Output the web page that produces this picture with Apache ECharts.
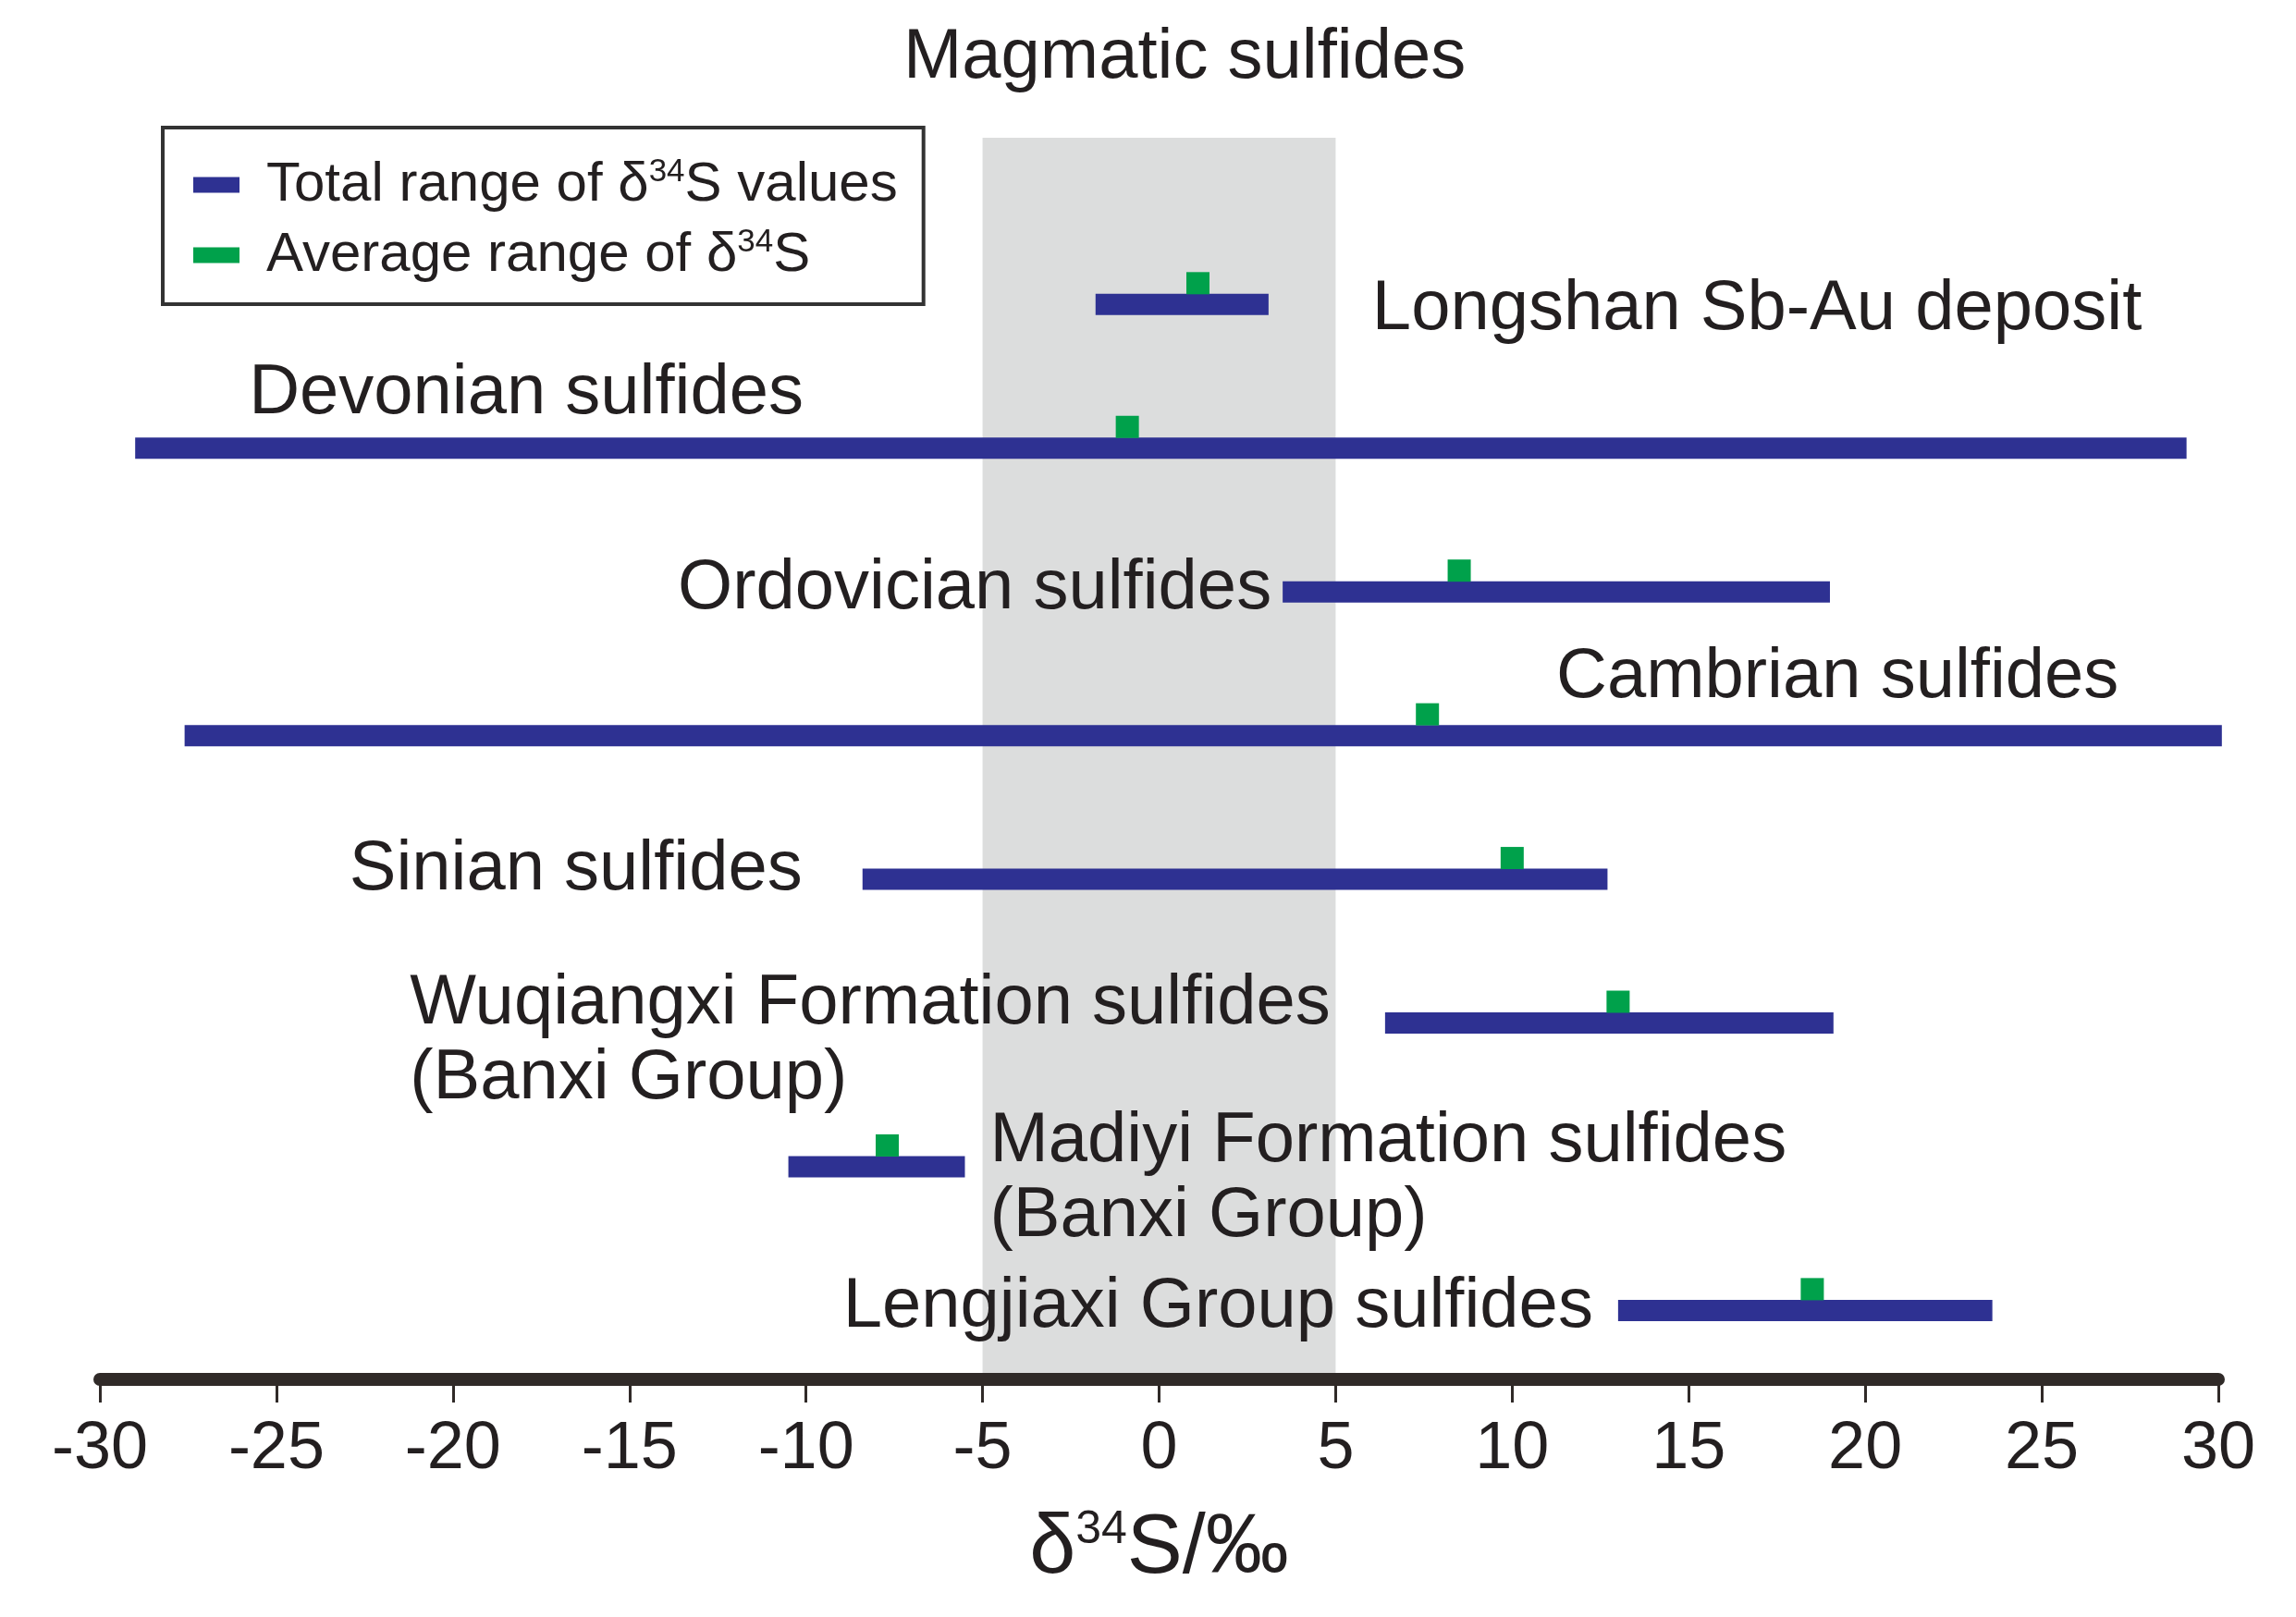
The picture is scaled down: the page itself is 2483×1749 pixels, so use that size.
<!DOCTYPE html>
<html>
<head>
<meta charset="utf-8">
<script src="https://cdn.jsdelivr.net/npm/echarts@6/dist/echarts.min.js"></script>
<style>html,body{margin:0;padding:0;background:#fff}#chart{width:2483px;height:1749px}</style>
</head>
<body>
<div id="chart"></div>
<script>
// ---- data ----
const categories = [
  'Longshan Sb-Au deposit',
  'Devonian sulfides',
  'Ordovician sulfides',
  'Cambrian sulfides',
  'Sinian sulfides',
  'Wuqiangxi Formation sulfides\n(Banxi Group)',
  'Madiyi Formation sulfides\n(Banxi Group)',
  'Lengjiaxi Group sulfides'
];
const rangeMin = [-1.8, -29.0, 3.5, -27.6, -8.4, 6.4, -10.5, 13.0];
const rangeMax = [3.1, 29.1, 19.0, 30.1, 12.7, 19.1, -5.5, 23.6];
const averages = [1.1, -0.9, 8.5, 7.6, 10.0, 13.0, -7.7, 18.5];
const xTickMin = -30, xTickMax = 30, xTickStep = 5;
const magmaticRange = [-5, 5];
const seriesNames = ['Total range of δ34S values', 'Average range of δ34S'];

// ---- label placement (layout only) ----
const labelLayout = [
  {anchor: 'max', dx: 112, dy: 6, align: 'left'},
  {anchor: 'value', x: -25.78, dx: 0, dy: -59, align: 'left'},
  {anchor: 'min', dx: -12, dy: -3, align: 'right'},
  {anchor: 'value', x: 11.25, dx: 0, dy: -63, align: 'left'},
  {anchor: 'min', dx: -65, dy: -10, align: 'right'},
  {anchor: 'value', x: -21.22, dx: 0, dy: 20, align: 'left'},
  {anchor: 'max', dx: 27, dy: 14, align: 'left'},
  {anchor: 'min', dx: -27, dy: -3, align: 'right'}
];

const FONT = "'Liberation Sans', Arial, Helvetica, sans-serif";
const TXT = '#231f20';
const BLUE = '#2e3192';
const GREEN = '#00a14b';
const BAR_H = 23;

const chart = echarts.init(document.getElementById('chart'), null, {renderer: 'canvas'});

const supFmt = s => s.replace('δ34S', 'δ{sup|34}S');

const option = {
  backgroundColor: '#ffffff',
  animation: false,
  textStyle: {fontFamily: FONT},
  title: {
    text: 'Magmatic sulfides',
    left: 972, top: 20,
    textStyle: {fontSize: 76, fontWeight: 'normal', color: TXT, fontFamily: FONT}
  },
  legend: {
    orient: 'vertical',
    left: 176, top: 138,
    padding: [31, 28, 22, 33],
    borderColor: '#333333', borderWidth: 4, borderRadius: 0,
    backgroundColor: '#ffffff',
    itemWidth: 50, itemHeight: 17, itemGap: 14,
    icon: 'rect',
    data: seriesNames,
    formatter: name => supFmt(name),
    textStyle: {
      fontSize: 60, color: TXT, fontFamily: FONT, lineHeight: 62,
      padding: [0, 0, 0, 24],
      rich: {
        sup: {fontSize: 35, lineHeight: 35, verticalAlign: 'top', color: TXT, fontFamily: FONT}
      }
    }
  },
  grid: {left: 108, right: 84, top: 149, bottom: 257, containLabel: false},
  xAxis: {
    type: 'value',
    min: xTickMin, max: xTickMax, interval: xTickStep,
    z: 5,
    axisLine: {show: true, onZero: false, lineStyle: {color: '#302a28', width: 14}},
    axisTick: {show: true, length: 25, lineStyle: {color: '#302a28', width: 3}},
    axisLabel: {fontSize: 72, color: TXT, margin: 40, fontFamily: FONT, showMinLabel: true, showMaxLabel: true},
    splitLine: {show: false},
    name: 'δ{sup|34}S/‰',
    nameLocation: 'middle',
    nameGap: 138,
    nameTextStyle: {
      fontSize: 90, color: TXT, fontFamily: FONT, lineHeight: 92,
      rich: {
        sup: {fontSize: 50, lineHeight: 50, verticalAlign: 'top', color: TXT, fontFamily: FONT}
      }
    }
  },
  yAxis: {
    type: 'value', inverse: true, min: -1.16, max: 7.48, show: false
  },
  series: [
    {
      name: seriesNames[0],
      type: 'custom',
      z: 2,
      itemStyle: {color: BLUE},
      encode: {x: [0, 1], y: 2},
      data: rangeMin.map((v, i) => [v, rangeMax[i], i]),
      renderItem: (params, api) => {
        const s = api.coord([api.value(0), api.value(2)]);
        const e = api.coord([api.value(1), api.value(2)]);
        return {
          type: 'rect',
          shape: {x: s[0], y: s[1] - BAR_H / 2, width: e[0] - s[0], height: BAR_H},
          style: {fill: BLUE}
        };
      }
    },
    {
      name: seriesNames[1],
      type: 'scatter',
      z: 3,
      symbol: 'rect',
      symbolSize: [25, 24],
      symbolOffset: [0, -23],
      itemStyle: {color: GREEN, opacity: 1},
      data: averages.map((v, i) => [v, i]),
      markArea: {
        silent: true,
        itemStyle: {color: '#dcdddd', opacity: 1},
        data: [[{xAxis: magmaticRange[0]}, {xAxis: magmaticRange[1]}]]
      }
    },
    {
      name: 'labels',
      type: 'custom',
      z: 4,
      silent: true,
      encode: {x: [0, 1], y: 2},
      data: rangeMin.map((v, i) => [v, rangeMax[i], i]),
      renderItem: (params, api) => {
        const i = params.dataIndex;
        const L = labelLayout[i];
        let xv = L.anchor === 'min' ? api.value(0) : (L.anchor === 'max' ? api.value(1) : L.x);
        const p = api.coord([xv, api.value(2)]);
        return {
          type: 'text',
          x: p[0] + L.dx,
          y: p[1] + L.dy,
          style: {
            text: categories[i],
            fontSize: 76,
            fontFamily: FONT,
            fill: TXT,
            align: L.align,
            verticalAlign: 'middle',
            lineHeight: 81
          }
        };
      }
    }
  ]
};
chart.setOption(option);
</script>
</body>
</html>
